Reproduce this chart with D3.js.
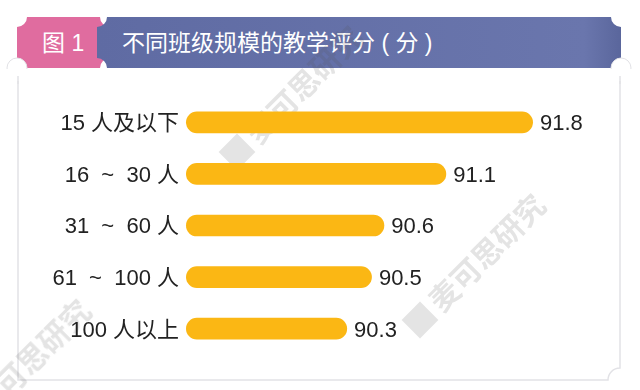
<!DOCTYPE html>
<html>
<head>
<meta charset="utf-8">
<script src="https://cdn.jsdelivr.net/npm/d3@7"></script>
<style>
  body { margin: 0; background: #fff; }
  svg { display: block; }
  .cat { white-space: pre; }
</style>
</head>
<body>
<svg id="chart" width="640" height="390"></svg>
<script>
// ---- data ----
var categories = ["15 人及以下", "16  ~  30 人", "31  ~  60 人", "61  ~  100 人", "100 人以上"];
var scores = [91.8, 91.1, 90.6, 90.5, 90.3];
var figLabel = "图 1";
var title = "不同班级规模的教学评分 ( 分 )";
var watermark = "麦可思研究";

var svg = d3.select("#chart");
var font = "'Liberation Sans', 'Noto Sans CJK SC', sans-serif";

// ---- panel frame ----
var px0 = 18, px1 = 620, py0 = 67, py1 = 380;
var frame = svg.append("g");
frame.append("path")
  .attr("d", "M" + px0 + "," + py0 + " V" + py1 + " H" + (px1 - 12) +
    " A12,12 0 0 1 " + px1 + "," + (py1 - 12) + " V" + py0)
  .attr("fill", "none")
  .attr("stroke", "#e2e2e6")
  .attr("stroke-width", 1.5);

// ---- header ----
var hx0 = 17, hx1 = 621, hy0 = 17, hy1 = 68, r = 10;
var notch = function (x0, x1) {
  return "M" + x0 + "," + (hy0 + r) +
    " A" + r + "," + r + " 0 0 0 " + (x0 + r) + "," + hy0 +
    " H" + (x1 - r) +
    " A" + r + "," + r + " 0 0 0 " + x1 + "," + (hy0 + r) +
    " V" + (hy1 - r) +
    " A" + r + "," + r + " 0 0 0 " + (x1 - r) + "," + hy1 +
    " H" + (x0 + r) +
    " A" + r + "," + r + " 0 0 0 " + x0 + "," + (hy1 - r) + " Z";
};
var grad = svg.append("defs").append("linearGradient").attr("id", "hg");
grad.append("stop").attr("offset", "0%").attr("stop-color", "#5f6ba3");
grad.append("stop").attr("offset", "93%").attr("stop-color", "#6a76ad");
grad.append("stop").attr("offset", "100%").attr("stop-color", "#5a669c");

svg.append("path").attr("d", notch(hx0, 110)).attr("fill", "#e06c9f");
svg.append("path").attr("d", notch(97, hx1)).attr("fill", "url(#hg)");
// white corner circles at panel top
svg.append("circle").attr("cx", hx0).attr("cy", hy1).attr("r", r)
  .attr("fill", "#fff").attr("stroke", "#e2e2e6").attr("stroke-width", 1);
svg.append("circle").attr("cx", hx1).attr("cy", hy1).attr("r", r)
  .attr("fill", "#fff").attr("stroke", "#e2e2e6").attr("stroke-width", 1);
svg.append("rect").attr("x", hx0 - r - 2).attr("y", hy1 + 1).attr("width", 2 * r + 4).attr("height", r + 2).attr("fill", "#fff");
svg.append("rect").attr("x", hx1 - r - 2).attr("y", hy1 + 1).attr("width", 2 * r + 4).attr("height", r + 2).attr("fill", "#fff");
svg.append("line").attr("x1", px0).attr("x2", px0).attr("y1", hy1 + r - 2).attr("y2", hy1 + r + 6).attr("stroke", "#e2e2e6").attr("stroke-width", 1.5);
svg.append("line").attr("x1", px1).attr("x2", px1).attr("y1", hy1 + r - 2).attr("y2", hy1 + r + 6).attr("stroke", "#e2e2e6").attr("stroke-width", 1.5);

svg.append("text").attr("x", 42).attr("y", 51)
  .attr("fill", "#fff").attr("font-family", font).attr("font-size", 23)
  .text(figLabel);
svg.append("text").attr("x", 122).attr("y", 51)
  .attr("fill", "#fff").attr("font-family", font).attr("font-size", 23)
  .text(title);

// ---- watermarks ----
var wm = svg.append("g").attr("opacity", 0.16);
[[237, 152], [420, 320], [-35, 425]].forEach(function (p) {
  var g = wm.append("g").attr("transform", "translate(" + p[0] + "," + p[1] + ")");
  g.append("rect").attr("x", -13).attr("y", -13).attr("width", 26).attr("height", 26)
    .attr("transform", "rotate(45)").attr("fill", "#555");
  g.append("text").attr("transform", "rotate(-45)").attr("x", 20).attr("y", 11)
    .attr("font-family", "'Noto Sans CJK SC', sans-serif").attr("font-weight", "bold")
    .attr("font-size", 30).attr("fill", "#555")
    .text(watermark);
});

// ---- bars ----
var x = d3.scaleLinear().domain([89, 91.8]).range([186, 533]);
var y = d3.scaleBand().domain(categories).range([96, 355]).paddingInner(0.58).paddingOuter(0.3);

var bars = svg.append("g");
bars.selectAll("rect")
  .data(categories)
  .enter().append("rect")
  .attr("x", x(89))
  .attr("y", function (d) { return y(d); })
  .attr("width", function (d, i) { return x(scores[i]) - x(89); })
  .attr("height", y.bandwidth())
  .attr("rx", y.bandwidth() / 2)
  .attr("fill", "#fbb714");

bars.selectAll(".cat")
  .data(categories)
  .enter().append("text")
  .attr("class", "cat")
  .attr("x", 179)
  .attr("y", function (d) { return y(d) + y.bandwidth() / 2; })
  .attr("dy", "0.36em")
  .attr("text-anchor", "end")
  .attr("font-family", font)
  .attr("font-size", 22)
  .attr("fill", "#222")
  .text(function (d) { return d; });

bars.selectAll(".val")
  .data(scores)
  .enter().append("text")
  .attr("class", "val")
  .attr("x", function (d) { return x(d) + 7; })
  .attr("y", function (d, i) { return y(categories[i]) + y.bandwidth() / 2; })
  .attr("dy", "0.36em")
  .attr("font-family", font)
  .attr("font-size", 22)
  .attr("fill", "#222")
  .text(function (d) { return d.toFixed(1); });
</script>
</body>
</html>
